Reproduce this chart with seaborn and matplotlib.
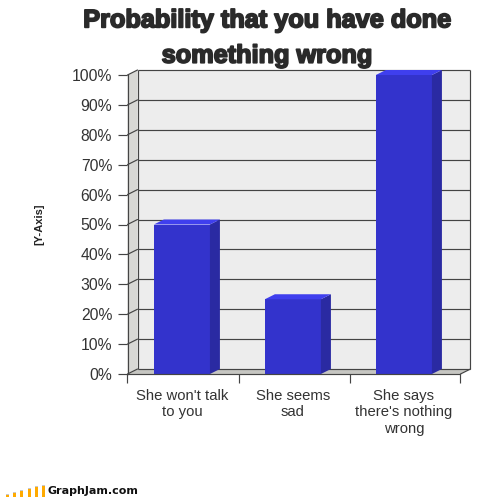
import matplotlib
matplotlib.use("Agg")
import matplotlib.pyplot as plt
import matplotlib.patheffects as pe
from matplotlib.patches import Polygon
from matplotlib.transforms import Affine2D
import pandas as pd
import seaborn as sns

categories = ["She won't talk\nto you", "She seems\nsad", "She says\nthere's nothing\nwrong"]
values = [50, 25, 100]
y_ticks = [0, 10, 20, 30, 40, 50, 60, 70, 80, 90, 100]
logo_levels = [3, 5, 7, 9, 11, 12]

W, H = 504, 497
DX, DY = 10, 5

sns.set_theme(style="white")
plt.rcParams['font.family'] = ['Liberation Sans', 'DejaVu Sans']

fig = plt.figure(figsize=(W / 100, H / 100), dpi=100, facecolor="white")
ax = fig.add_axes([127.5 / W, 1 - 374 / H, 333 / W, 299 / H])
ax.patch.set_visible(False)

df = pd.DataFrame({"cat": categories, "val": values})
sns.barplot(data=df, x="cat", y="val", color="#3333cc", saturation=1, width=0.505, linewidth=0, ax=ax, zorder=5)
# bars sit a little left of the middle of each slot
ax.set_xlim(-0.49, 2.51)
ax.set_ylim(0, 100)

# back plane is the front plane shifted a few pixels
back = ax.transData + Affine2D().translate(DX, DY)
x0, x1 = ax.get_xlim()
y0, y1 = ax.get_ylim()
line_c = "#444444"
lw = 0.85


def quad(front_pts, back_pts, color, z, edge="none"):
    # front_pts in data coords, back_pts get shifted
    disp = [ax.transData.transform(p) for p in front_pts] + [back.transform(p) for p in back_pts]
    ax.add_patch(Polygon(disp, closed=True, transform=None, facecolor=color, edgecolor=edge,
                         linewidth=0.8, zorder=z, clip_on=False))


# walls and floor
ax.fill_between([x0, x1], y0, y1, transform=back, color="#ededed", zorder=0, clip_on=False, linewidth=0)
quad([(x0, y0), (x0, y1)], [(x0, y1), (x0, y0)], "#d8d8d5", 1)
quad([(x0, y0), (x1, y0)], [(x1, y0), (x0, y0)], "#c6c6c2", 1)

# gridlines with the slanted bit on the left wall
for t in y_ticks:
    ax.hlines(t, x0, x1, transform=back, color=line_c, lw=lw, zorder=2, clip_on=False)
    a = ax.transData.transform((x0, t))
    b = back.transform((x0, t))
    ax.plot([a[0], b[0]], [a[1], b[1]], transform=None, color=line_c, lw=lw, zorder=2, clip_on=False)
ax.vlines([x0, x1], y0, y1, transform=back, color=line_c, lw=lw, zorder=2, clip_on=False)
a = ax.transData.transform((x1, y0))
b = back.transform((x1, y0))
ax.plot([a[0], b[0]], [a[1], b[1]], transform=None, color=line_c, lw=lw, zorder=2, clip_on=False)

# 3d sides for the bars
for bar in ax.patches[:len(values)]:
    l, r = bar.get_x(), bar.get_x() + bar.get_width()
    h = bar.get_height()
    quad([(r, 0), (r, h)], [(r, h), (r, 0)], "#2a2aa2", 6)
    quad([(l, h), (r, h)], [(r, h), (l, h)], "#3f3fee", 6)

ax.set_xlabel("")
ax.set_ylabel("[Y-Axis]", fontsize=8, fontweight="bold", color="#222222", labelpad=20)
ax.set_yticks(y_ticks)
ax.set_yticklabels([f"{t}%" for t in y_ticks])
ax.set_xticks(range(len(categories)))
ax.set_xticklabels(categories)
ax.set_xticks([x0, x0 + 1, x0 + 2, x0 + 3], minor=True)
ax.tick_params(axis="x", which="major", length=0, pad=11, labelsize=10.7, labelcolor="#333333")
ax.tick_params(axis="x", which="minor", length=6.5, width=lw, color=line_c, bottom=True)
ax.tick_params(axis="y", length=7.5, width=lw, color=line_c, pad=3.5, labelsize=11.3, labelcolor="#333333", left=True)
sns.despine(ax=ax, top=True, right=True)
for s in ["left", "bottom"]:
    ax.spines[s].set_color(line_c)
    ax.spines[s].set_linewidth(lw)
    ax.spines[s].set_zorder(7)

title = fig.text(267 / W, 1 - 38 / H, "Probability that you have done\nsomething wrong", ha="center", va="center",
                 family=['Liberation Sans'], fontweight="bold", fontsize=18.2,
                 color="#2a2a2a", linespacing=1.6)
title.set_path_effects([pe.withStroke(linewidth=1.3, foreground="#2a2a2a")])

# GraphJam logo at the bottom
logo = fig.add_axes([3.9 / W, 0, 43.2 / W, 12 / H])
xs = list(range(len(logo_levels)))
sns.barplot(x=xs, y=logo_levels, color="#c8c8c8", saturation=1, width=0.42, linewidth=0, ax=logo)
sns.barplot(x=xs, y=[v - 1 for v in logo_levels], color="#ffaa00", saturation=1, width=0.42, linewidth=0, ax=logo)
logo.set_xlim(-0.5, 5.5)
logo.set_ylim(0, 12)
logo.axis("off")
fig.text(48 / W, 1 - 491 / H, "GraphJam.com", ha="left", va="center", family="DejaVu Sans", fontweight="bold",
         fontsize=8.0, color="#111111")

fig.savefig("out.png", dpi=100)
